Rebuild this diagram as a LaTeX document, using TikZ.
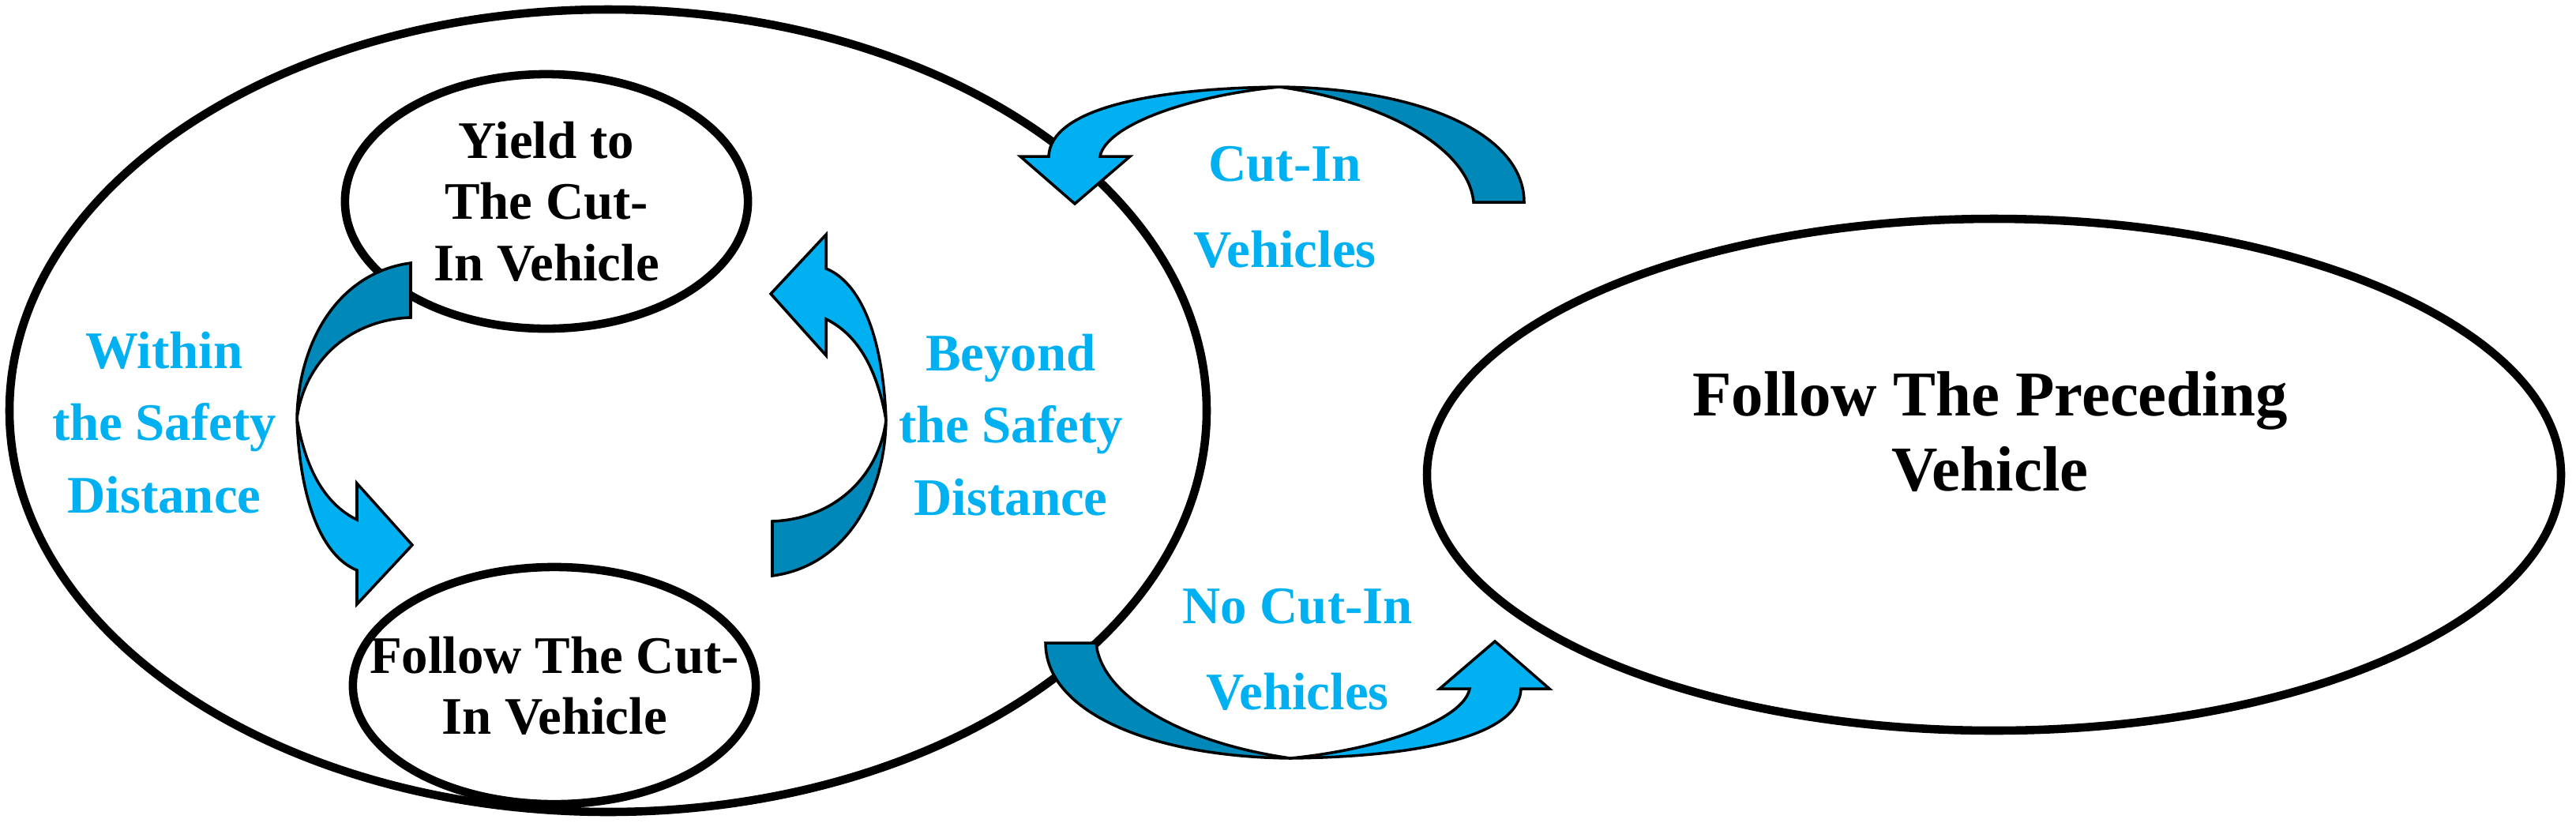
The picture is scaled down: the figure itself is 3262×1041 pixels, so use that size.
\documentclass[tikz,border=0pt]{standalone}
\usepackage{fontspec}
\setmainfont{Liberation Serif}
\usetikzlibrary{shapes.geometric}
\definecolor{lb}{HTML}{00B0F0}
\definecolor{db}{HTML}{0088B8}
\begin{document}
\begin{tikzpicture}[x=0.01cm,y=-0.01cm,
  st/.style={draw=black,line width=3pt},
  lab/.style={font=\bfseries\fontsize{19}{22}\selectfont,align=center,text=black},
  blab/.style={font=\bfseries\fontsize{19}{26}\selectfont,align=center,text=lb},
  lt/.style={fill=lb,draw=black,line width=1pt,line join=miter},
  dk/.style={fill=db,draw=black,line width=1pt}]
\useasboundingbox (0,0) rectangle (3262,1041);
\draw[st] (770,520) ellipse [x radius=758,y radius=508];
\draw[st] (2525,601) ellipse [x radius=718,y radius=324];
\node[st,ellipse,minimum width=5.1cm,minimum height=3.22cm,inner sep=0] (y) at (692,255) {};
\node[lab] at (y) {Yield to\\The Cut-\\In Vehicle};
\node[st,ellipse,minimum width=5.1cm,minimum height=3.0cm,inner sep=0] (f) at (702,868) {};
\node[lab] at (f) {Follow The Cut-\\In Vehicle};
\node[font=\bfseries\fontsize{23}{27}\selectfont,align=center] (p) at (2520,547) {Follow The Preceding\\Vehicle};
\node[blab] (w) at (208,535) {Within\\the Safety\\Distance};
\node[blab] (b) at (1280,538) {Beyond\\the Safety\\Distance};
\node[font=\bfseries\fontsize{19}{31}\selectfont,align=center,text=lb] (c) at (1627,262) {Cut-In\\Vehicles};
\node[font=\bfseries\fontsize{19}{31}\selectfont,align=center,text=lb] (n) at (1643,822) {No Cut-In\\Vehicles};
\def\warrow{
\path[dk] (520,333) .. controls (430,345) and (378,430) .. (376,530) .. controls (385,460) and (440,405) .. (520,402) -- cycle;
\path[lt] (376,530) .. controls (380,640) and (410,705) .. (452,722) -- (452,765) -- (522,690) -- (452,612) -- (452,658) .. controls (415,640) and (388,600) .. (376,530) -- cycle;}
\warrow
\begin{scope}[rotate around={180:(749,531)}]\warrow\end{scope}
\def\carrow{
\path[dk] (1620,110) .. controls (1800,112) and (1930,170) .. (1930,256) -- (1866,256) .. controls (1860,190) and (1760,130) .. (1620,110) -- cycle;
\path[lt] (1620,110) .. controls (1450,112) and (1330,140) .. (1328,198) -- (1292,198) -- (1361,258) -- (1431,198) -- (1393,198) .. controls (1400,160) and (1500,122) .. (1620,110) -- cycle;}
\carrow
\begin{scope}[rotate around={180:(1627,535)}]\carrow\end{scope}
\end{tikzpicture}
\end{document}
